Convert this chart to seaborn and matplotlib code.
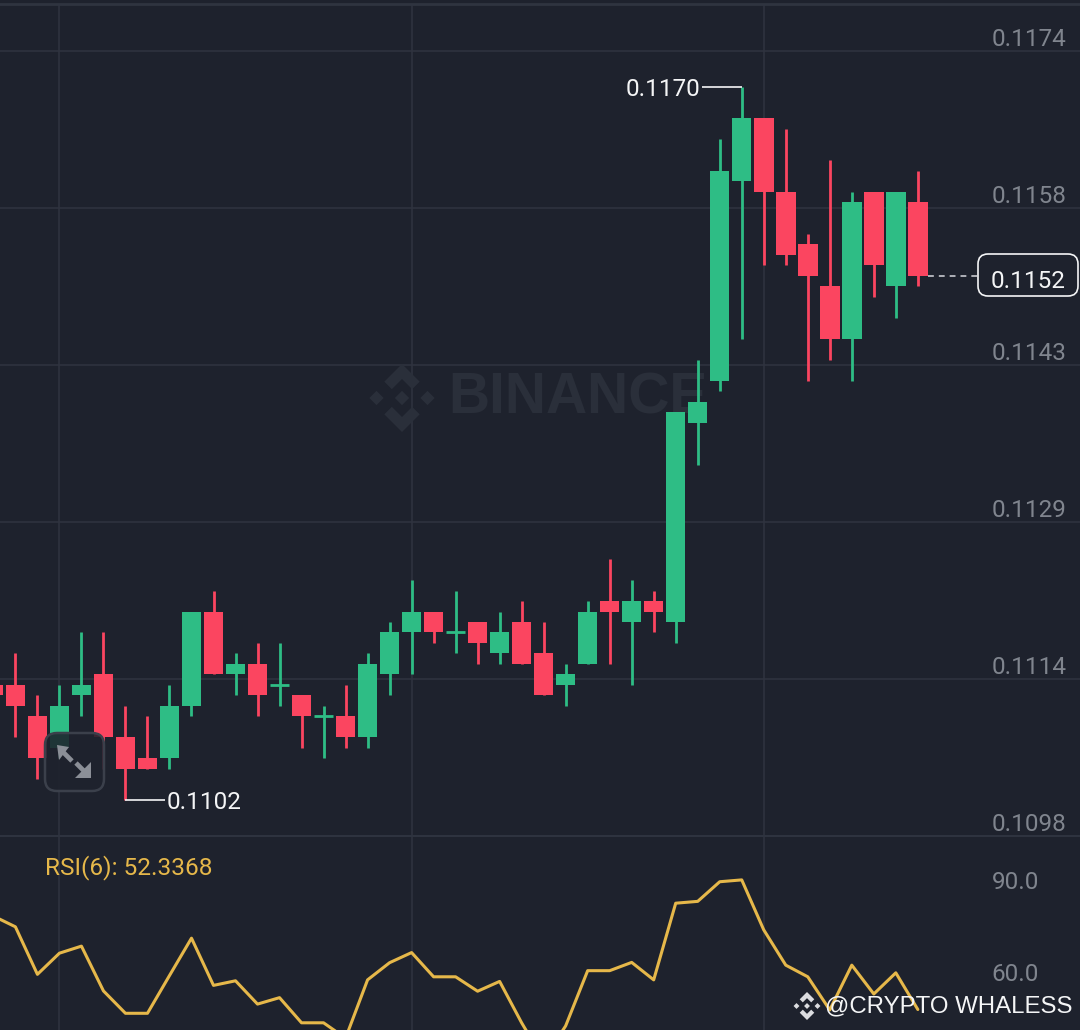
"""
Recreate the Binance candlestick + RSI(6) screenshot
"""
import numpy as np
import pandas as pd
import matplotlib
matplotlib.use("Agg")
import matplotlib.pyplot as plt
import seaborn as sns
from matplotlib.patches import FancyBboxPatch, Polygon
from matplotlib.transforms import IdentityTransform

# candles, left to right
opens = [0.1113, 0.1113, 0.1110, 0.1107, 0.1112, 0.1114, 0.1108, 0.1106, 0.1106, 0.1111, 0.1120,
         0.1114, 0.1115, 0.1113, 0.1112, 0.1110, 0.1110, 0.1108, 0.1114, 0.1118, 0.1120, 0.1118,
         0.1119, 0.1116, 0.1119, 0.1116, 0.1113, 0.1115, 0.1121, 0.1119, 0.1121, 0.1119, 0.1138,
         0.1142, 0.1161, 0.1167, 0.1160, 0.1155, 0.1151, 0.1146, 0.1160, 0.1151, 0.1159]
highs = [0.1113, 0.1116, 0.1112, 0.1113, 0.1118, 0.1118, 0.1111, 0.1110, 0.1113, 0.1120, 0.1122,
         0.1116, 0.1117, 0.1117, 0.1112, 0.1111, 0.1113, 0.1116, 0.1119, 0.1123, 0.1120, 0.1122,
         0.1119, 0.1120, 0.1121, 0.1119, 0.1115, 0.1121, 0.1125, 0.1123, 0.1122, 0.1139, 0.1144,
         0.1165, 0.1170, 0.1167, 0.1166, 0.1156, 0.1163, 0.1160, 0.1160, 0.1160, 0.1162]
lows = [0.1112, 0.1108, 0.1104, 0.1106, 0.1110, 0.1105, 0.1102, 0.1105, 0.1105, 0.1110, 0.1114,
        0.1112, 0.1110, 0.1111, 0.1107, 0.1106, 0.1107, 0.1107, 0.1112, 0.1114, 0.1117, 0.1116,
        0.1115, 0.1115, 0.1115, 0.1112, 0.1111, 0.1115, 0.1115, 0.1113, 0.1118, 0.1117, 0.1134,
        0.1141, 0.1146, 0.1153, 0.1153, 0.1142, 0.1144, 0.1142, 0.1150, 0.1148, 0.1151]
closes = [0.1112, 0.1111, 0.1106, 0.1111, 0.1113, 0.1108, 0.1105, 0.1105, 0.1111, 0.1120, 0.1114,
          0.1115, 0.1112, 0.1113, 0.1110, 0.1110, 0.1108, 0.1115, 0.1118, 0.1120, 0.1118, 0.1118,
          0.1117, 0.1118, 0.1115, 0.1112, 0.1114, 0.1120, 0.1120, 0.1121, 0.1120, 0.1139, 0.1140,
          0.1162, 0.1167, 0.1160, 0.1154, 0.1152, 0.1146, 0.1159, 0.1153, 0.1160, 0.1152]
rsi_values = [82.8, 79.3, 63.8, 70.7, 73.0, 58.4, 51.1, 51.1, 63.4, 75.6, 60.2,
              61.7, 54.1, 56.2, 48.0, 48.0, 43.0, 62.0, 67.6, 70.9, 63.0, 63.0,
              58.3, 61.5, 48.0, 35.9, 47.0, 65.0, 65.0, 67.7, 62.0, 87.0, 87.6,
              94.0, 94.6, 78.3, 66.8, 63.0, 52.2, 66.8, 57.4, 64.3, 52.34]

price_ticks = [0.11734, 0.115847, 0.11435, 0.112853, 0.111357, 0.10986]
price_tick_labels = ["0.1174", "0.1158", "0.1143", "0.1129", "0.1114", "0.1098"]
rsi_ticks = [90, 60]
rsi_tick_labels = ["90.0", "60.0"]
time_ticks = [3, 19, 35]

BG = "#1e222d"
GRID = "#2f3440"
UP = "#2ebd85"
DOWN = "#fb4560"
GOLD = "#e6b84a"
AXIS_TEXT = "#80858e"
WHITE = "#f4f5f6"
WATERMARK = "#2a2f3a"
W, H = 1080, 1030
PX_PER_TICK = 10.49
X_LEFT = 6.6 / 22.01

sns.set_theme(style="darkgrid", rc={
    "figure.facecolor": BG,
    "axes.facecolor": BG,
    "grid.color": GRID,
    "grid.linewidth": 1.1,
    "axes.edgecolor": GRID,
})
plt.rcParams["font.family"] = ["Roboto", "DejaVu Sans"]

df = pd.DataFrame({"open": opens, "high": highs, "low": lows, "close": closes, "rsi": rsi_values})
df["idx"] = np.arange(len(df))
df["up"] = df["close"] >= df["open"]
df["color"] = df["up"].map({True: UP, False: DOWN})

fig = plt.figure(figsize=(W / 100, H / 100), dpi=100)
ax = fig.add_axes([0, (H - 836) / H, 1, (836 - 4) / H])
ax_rsi = fig.add_axes([0, 0, 1, (H - 836) / H])


def logo_parts(cx, cy, r):
    # binance mark in screen pixels (cy measured from the top)
    parts = [
        [(0, 1), (.52, .48), (.3, .26), (0, .56), (-.3, .26), (-.52, .48)],
        [(0, -1), (.52, -.48), (.3, -.26), (0, -.56), (-.3, -.26), (-.52, -.48)],
        [(0, .21), (.21, 0), (0, -.21), (-.21, 0)],
        [(-.75, .21), (-.54, 0), (-.75, -.21), (-.96, 0)],
        [(.75, .21), (.96, 0), (.75, -.21), (.54, 0)],
    ]
    return [[(cx + r * a, H - cy + r * b) for a, b in p] for p in parts]


# price panel
ax.set_xlim(X_LEFT, X_LEFT + W / 22.01)
ax.set_ylim(0.1170 - (836 - 87) / PX_PER_TICK * 0.0001, 0.1170 + (87 - 4) / PX_PER_TICK * 0.0001)
ax.vlines(df["idx"], df["low"], df["high"], colors=df["color"], linewidth=2.0, zorder=3)
ax.bar(df["idx"], df["close"] - df["open"], bottom=df["open"], width=0.886,
       color=df["color"], linewidth=0, zorder=4)
doji = df[df["open"] == df["close"]]
ax.hlines(doji["close"], doji["idx"] - 0.44, doji["idx"] + 0.44, colors=doji["color"], linewidth=2.0, zorder=4)

ax.set_xticks(time_ticks)
ax.set_yticks(price_ticks)
ax.set_yticklabels(price_tick_labels, va="bottom")
ax.yaxis.tick_right()
ax.tick_params(axis="y", length=0, pad=-63.8, labelsize=17.5, labelcolor=AXIS_TEXT)
ax.tick_params(axis="x", length=0, labelbottom=False)
ax.grid(True, color=GRID, linewidth=1.1)
ax.set_axisbelow(True)
for side in ["left", "right", "bottom"]:
    ax.spines[side].set_visible(False)
ax.spines["top"].set_color(GRID)
ax.spines["top"].set_linewidth(2)

# watermark
for part in logo_parts(402, 398, 34):
    ax.add_patch(Polygon(part, closed=True, facecolor=WATERMARK, edgecolor="none",
                         transform=IdentityTransform(), zorder=1))
ax.text(578 / 22.01 + X_LEFT, 0.1170 - (399 - 87) / PX_PER_TICK * 0.0001, "BINANCE", color=WATERMARK,
        fontsize=41, fontweight="bold", ha="center", va="center", zorder=1,
        family=["Liberation Sans", "DejaVu Sans"])

# high / low labels
hi = df["high"].idxmax()
lo = df["low"].idxmin()
ax.hlines(df["high"][hi], hi - 1.8, hi, colors=WHITE, linewidth=1.2, zorder=5)
ax.annotate(f"{df['high'][hi]:.4f}", (hi - 1.8, df["high"][hi]), xytext=(-1.5, -1.6),
            textcoords="offset points", ha="right", va="center", color=WHITE, fontsize=17.5, zorder=6)
ax.hlines(df["low"][lo], lo, lo + 1.8, colors=WHITE, linewidth=1.2, zorder=5)
ax.annotate(f"{df['low'][lo]:.4f}", (lo + 1.8, df["low"][lo]), xytext=(1.2, -1.6),
            textcoords="offset points", ha="left", va="center", color=WHITE, fontsize=17.5, zorder=6)

# last price tag
last = df["close"].iloc[-1]
ax.hlines(last, df["idx"].iloc[-1] + 0.44, 44.75, colors="#c8cad0", linewidth=1.2,
          linestyles=(0, (3.5, 3)), zorder=3)
ax.annotate(f"{last:.4f}", (1.0, last), xycoords=ax.get_yaxis_transform(), xytext=(-37.4, -4.2),
            textcoords="offset points", ha="center", va="center", color=WHITE, fontsize=17.5, zorder=6)
ax.add_patch(FancyBboxPatch((984, H - 290), 88, 30, boxstyle="round,pad=6,rounding_size=10",
                            facecolor="none", edgecolor=WHITE, linewidth=1.2,
                            transform=IdentityTransform(), zorder=5))

# expand button
ax.add_patch(FancyBboxPatch((51, H - 785), 47, 46, boxstyle="round,pad=6,rounding_size=12",
                            facecolor=(30 / 255, 34 / 255, 45 / 255, 0.88), edgecolor="#3b404b",
                            linewidth=1.8, transform=IdentityTransform(), zorder=7))
for tri, stem in [
    ([(57, 745), (69, 747), (59, 760)], ((63, 752), (72, 761))),
    ([(91, 778), (75, 778), (91, 762)], ((85, 772), (76, 763))),
]:
    ax.add_patch(Polygon([(x, H - y) for x, y in tri], closed=True, facecolor="#8b8f97", edgecolor="none",
                         transform=IdentityTransform(), zorder=8))
    ax.plot([stem[0][0], stem[1][0]], [H - stem[0][1], H - stem[1][1]], color="#8b8f97", linewidth=3.4,
            transform=IdentityTransform(), zorder=8, solid_capstyle="butt")

# rsi panel
sns.lineplot(data=df, x="idx", y="rsi", ax=ax_rsi, color=GOLD, linewidth=2.2, legend=False, zorder=3)
ax_rsi.set_xlim(ax.get_xlim())
ax_rsi.set_ylim(60 + (986 - H) / 3.0667, 60 + (986 - 836) / 3.0667)
ax_rsi.set_xticks(time_ticks)
ax_rsi.set_yticks(rsi_ticks)
ax_rsi.set_yticklabels(rsi_tick_labels, va="bottom")
ax_rsi.yaxis.tick_right()
ax_rsi.tick_params(axis="y", length=0, pad=-63.8, labelsize=17.5, labelcolor=AXIS_TEXT)
ax_rsi.tick_params(axis="x", length=0, labelbottom=False)
ax_rsi.set_xlabel("")
ax_rsi.set_ylabel("")
ax_rsi.grid(False, axis="y")
ax_rsi.grid(True, axis="x", color=GRID, linewidth=1.1)
for side in ["left", "right", "bottom"]:
    ax_rsi.spines[side].set_visible(False)
ax_rsi.spines["top"].set_color(GRID)
ax_rsi.spines["top"].set_linewidth(1.4)
ax_rsi.text(45 / W, 1 - 32 / (H - 836), "RSI(6): 52.3368", transform=ax_rsi.transAxes,
            color=GOLD, fontsize=17.6, ha="left", va="center")

# repost watermark on top of everything
for part in logo_parts(807, 1006, 14):
    ax_rsi.add_patch(Polygon(part, closed=True, facecolor="#dcdde0", edgecolor="none",
                             transform=IdentityTransform(), zorder=9))
ax_rsi.text(825 / W, (H - 1006) / (H - 836), "@CRYPTO WHALESS", transform=ax_rsi.transAxes,
            color=WHITE, fontsize=17.3, ha="left", va="center", zorder=9,
            family=["Liberation Sans", "DejaVu Sans"])

fig.savefig("out.png", dpi=100, facecolor=BG)
